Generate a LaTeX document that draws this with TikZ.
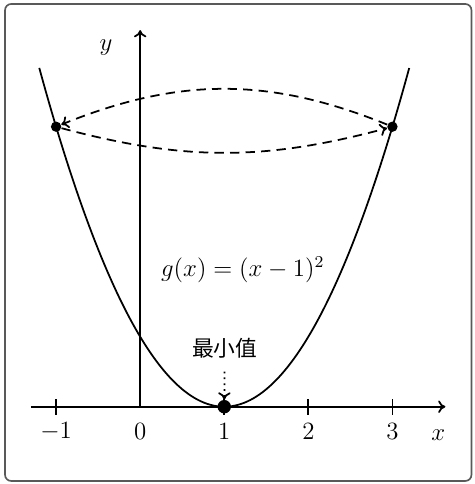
\documentclass[tikz,border=0pt]{standalone}
\usepackage{fontspec}
\newfontfamily\cjk{Noto Sans CJK SC}
\usetikzlibrary{arrows.meta}
\begin{document}
\begin{tikzpicture}[x=40.6pt,y=33.8pt,
  ln/.style={line width=0.85pt},
  dotnode/.style={circle,fill=black,inner sep=0pt,minimum size=#1},
  ticklbl/.style={inner sep=0pt,font=\large},
  dsh/.style={ln,dash pattern=on 4.5pt off 3pt,->},
  >={To[length=3.5pt,width=6pt]}]
\useasboundingbox (-1.667,-1.104) rectangle (3.976,5.81);
\draw[gray!70!black,line width=0.8pt,rounded corners=3pt] (-1.607,-1.061) rectangle (3.94,5.753);
% axes
\draw[ln,->] (-1.3,0) -- (3.63,0);
\draw[ln,->] (0,0) -- (0,5.38);
\foreach \t in {-1,1,2,3} \draw[ln] (\t,-0.115) -- (\t,0.115);
\foreach \t/\l in {-1/$-1$,0/$0$,1/$1$,2/$2$,3/$3$}
  \node[ticklbl] (t\t) at (\t,-0.36) {\l};
\node[ticklbl] (xl) at (3.545,-0.404) {$x$};
\node[ticklbl] (yl) at (-0.405,5.13) {$y$};
% curve
\draw[ln,domain=-1.2:3.2,smooth,samples=120] plot (\x,{(\x-1)^2});
\node[dotnode=5pt] (L) at (-1,4) {};
\node[dotnode=5pt] (R) at (3,4) {};
\node[dotnode=6.5pt] (V) at (1,0) {};
\draw[dsh] (R) to[bend right=22] (L);
\draw[dsh] (L) to[bend right=15] (R);
\node (F) at (1.22,1.953) {\large $g(x)=(x-1)^2$};
\node (M) at (1.006,0.839) {\fontsize{10.5}{12}\selectfont\cjk 最小值};
\draw[ln,dotted,->,shorten <=3pt] (M) -- (V);
\end{tikzpicture}
\end{document}
